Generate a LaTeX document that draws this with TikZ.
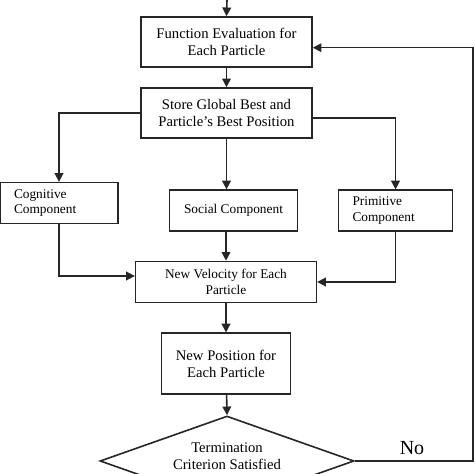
\documentclass[tikz,border=0pt]{standalone}
\usepackage{fontspec}
\setmainfont{Liberation Serif}
\usetikzlibrary{shapes.geometric,arrows.meta}

\begin{document}
\begin{tikzpicture}[
    x=0.75pt, y=-0.75pt,
    line width=1.2pt, draw=black!85,
    stepbox/.style={rectangle, draw=black!85, line width=1.2pt, fill=white, align=center, inner sep=0pt, font=\fontsize{11}{12.6}\selectfont},
    compbox/.style={rectangle, draw=black!85, line width=1.2pt, fill=white, inner sep=0pt, minimum height=30.5pt, font=\fontsize{10}{11.6}\selectfont},
    decision/.style={diamond, aspect=2.82, draw=black!85, line width=1.2pt, fill=white, inner sep=0pt, minimum width=190.5pt, minimum height=67.5pt},
    flow/.style={-{Triangle[length=6.5pt,width=6.5pt]}, line width=1.2pt, black!85}
]
\useasboundingbox (0,0) rectangle (474,474);
\clip (0,0) rectangle (474,474);

% ==================== EVALUATION ====================
\coordinate (top_in) at (227,0);
\node[stepbox, minimum width=128.25pt, minimum height=37.5pt] (box_eval) at (226.5,42) {Function Evaluation for\\Each Particle};
\node[stepbox, minimum width=128.25pt, minimum height=37.5pt] (box_store) at (226.5,113) {Store Global Best and\\Particle's Best Position};

% ==================== VELOCITY COMPONENTS ====================
\node[compbox, minimum width=88.5pt, text width=67.5pt, align=left] (comp_cog) at (59,203) {Cognitive\\Component};
\node[compbox, minimum width=96pt, align=center] (comp_soc) at (233.5,210.5) {Social Component};
\node[compbox, minimum width=85.5pt, text width=64.5pt, align=left] (comp_prim) at (395.5,210.5) {Primitive\\Component};

% ==================== UPDATE ====================
\node[stepbox, minimum width=135.5pt, minimum height=30.75pt, font=\fontsize{10}{11.6}\selectfont] (box_vel) at (226,282) {New Velocity for Each\\Particle};
\node[stepbox, minimum width=96.5pt, minimum height=45.75pt] (box_pos) at (226,363.7) {New Position for\\Each Particle};
\node[decision] (dec_term) at (227,461) {};
\node[align=center, inner sep=0pt, font=\fontsize{11}{13}\selectfont] (txt_term) at (227,456) {Termination\\Criterion Satisfied};
\node[font=\fontsize{15}{18}\selectfont] (lbl_no) at (412,448) {No};
\coordinate (fb_top) at (473,47.7);

% ==================== CONNECTORS ====================
\draw[flow] (top_in) -- (box_eval.north);
\draw[flow] (box_eval) -- (box_store);
\draw[flow] (box_store.west) -| (comp_cog.north);
\draw[flow] (box_store.south) -- (box_store.south |- comp_soc.north);
\draw[flow] ([yshift=-3.75pt]box_store.east) -| (comp_prim.north);

\draw[flow] (comp_cog.south) |- ([yshift=4.5pt]box_vel.west);
\draw[flow] (comp_soc.south -| box_vel.north) -- (box_vel.north);
\draw[flow] (comp_prim.south) |- (box_vel.east);

\draw[flow] (box_vel) -- (box_pos);
\draw[flow] (box_pos) -- (dec_term.north);

% feedback loop
\draw[flow] (dec_term.east) -| (fb_top) -- (fb_top -| box_eval.east);

\end{tikzpicture}
\end{document}
